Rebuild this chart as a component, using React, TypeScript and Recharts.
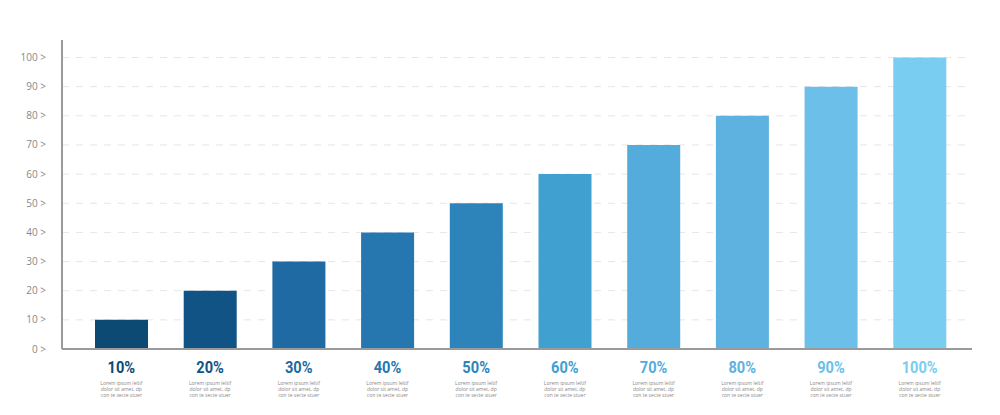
import { BarChart, Bar, XAxis, YAxis, CartesianGrid, Cell } from "recharts";

const categories = ["10%", "20%", "30%", "40%", "50%", "60%", "70%", "80%", "90%", "100%"];
const values = [10, 20, 30, 40, 50, 60, 70, 80, 90, 100];
const yTicks = [0, 10, 20, 30, 40, 50, 60, 70, 80, 90, 100];
const colors = [
  "#0c4a74",
  "#115384",
  "#1f6aa2",
  "#2677b0",
  "#2c84bb",
  "#40a0cf",
  "#54acdc",
  "#5db2e0",
  "#6bbfe8",
  "#78cdf0",
];
const loremLines = ["Lorem ipsum leltif", "dolor sit amet, dp", "con te secte stuer"];

const data = categories.map((name, i) => ({ name, value: values[i] }));

function PercentTick({ x, y, payload, index }: any) {
  return (
    <g transform={`translate(${x},${y})`}>
      <text
        textAnchor="middle"
        y={16}
        transform="scale(0.86,1)"
        fill={colors[index]}
        fontSize={17}
        fontWeight="bold"
        fontFamily="Roboto, 'Liberation Sans', sans-serif"
      >
        {payload.value}
      </text>
      {loremLines.map((line, i) => (
        <text
          key={i}
          textAnchor="middle"
          y={28 + i * 6}
          fill="#888"
          fontSize={5}
          fontFamily="'Open Sans', sans-serif"
        >
          {line}
        </text>
      ))}
    </g>
  );
}

export default function App() {
  document.body.style.margin = "0";
  return (
    <div style={{ width: 1000, height: 415, background: "#fff" }}>
      <BarChart
        width={1000}
        height={415}
        data={data}
        margin={{ top: 40, right: 28, bottom: 0, left: 0 }}
      >
        <CartesianGrid vertical={false} strokeDasharray="7 7" stroke="#e6e6e6" syncWithTicks />
        <XAxis
          dataKey="name"
          height={66}
          tickLine={false}
          axisLine={{ stroke: "#9a9a9a", strokeWidth: 2 }}
          tick={<PercentTick />}
          interval={0}
          padding={{ left: 15, right: 8 }}
        />
        <YAxis
          width={62}
          domain={[0, 106]}
          ticks={yTicks}
          tickLine={false}
          axisLine={{ stroke: "#9a9a9a", strokeWidth: 2 }}
          tickFormatter={(v) => `${v} >`}
          tick={{ fill: "#888", fontSize: 10, fontFamily: "'Open Sans', sans-serif" }}
          tickMargin={10}
        />
        <Bar dataKey="value" barSize={53} isAnimationActive={false}>
          {data.map((d, i) => (
            <Cell key={d.name} fill={colors[i]} />
          ))}
        </Bar>
      </BarChart>
    </div>
  );
}
